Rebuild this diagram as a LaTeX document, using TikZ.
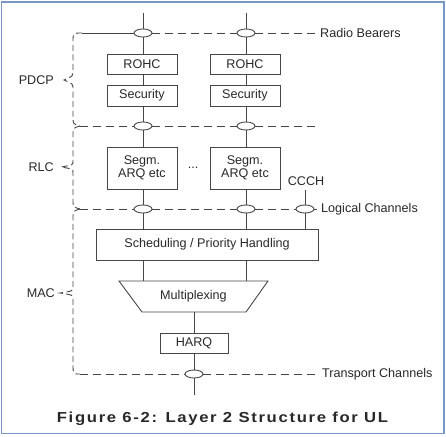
\documentclass[tikz,border=0pt]{standalone}
\usepackage{fontspec}
\usepackage{graphicx}
\setmainfont{Liberation Sans}
\newfontfamily\capfont[LetterSpace=10]{Liberation Sans}
\usetikzlibrary{shapes.geometric}
\definecolor{lnc}{RGB}{70,70,70}
\definecolor{txc}{RGB}{40,40,40}
\definecolor{frc}{RGB}{120,150,200}
\tikzset{
  box/.style={draw=lnc, line width=0.9pt, minimum width=70pt, inner sep=0pt, align=center, text=txc, font=\fontsize{12.6}{13.5}\selectfont},
  sap/.style={draw=lnc, line width=0.9pt, ellipse, minimum width=18pt, minimum height=8pt, inner sep=0pt, fill=white},
  dline/.style={draw=lnc, line width=0.9pt, dash pattern=on 8pt off 5pt},
  brc/.style={draw=lnc, line width=0.9pt, dash pattern=on 6pt off 3.5pt},
  sline/.style={draw=lnc, line width=0.9pt},
  lbl/.style={text=txc, font=\fontsize{12.6}{13.5}\selectfont, inner sep=0pt},
}
\begin{document}
\begin{tikzpicture}[x=1pt,y=-1pt]
\useasboundingbox (0,0) rectangle (446,436);
\draw[frc, line width=1.5pt] (1.5,2) rectangle (444,433.5);
% column coordinates
\coordinate (t1) at (143,13);
\coordinate (t2) at (246,13);
% SAP ellipses
\node[sap] (rb1) at (143,33) {};
\node[sap] (rb2) at (246,33) {};
\node[sap] (pr1) at (143,126) {};
\node[sap] (pr2) at (246,126) {};
\node[sap] (lc1) at (143,209) {};
\node[sap] (lc2) at (246,209) {};
\node[sap] (lc3) at (305,209) {};
\node[sap] (tc) at (194,374) {};
% boxes
\node[box, minimum height=20pt] (rohc1) at (142,64) {ROHC};
\node[box, minimum height=20pt] (rohc2) at (245,64) {ROHC};
\node[box, minimum height=21pt] (sec1) at (142,95.5) {Security};
\node[box, minimum height=21pt] (sec2) at (245,95.5) {Security};
\node[box, minimum height=42pt] (seg1) at (142,168) {Segm.\\ARQ etc};
\node[box, minimum height=42pt] (seg2) at (245,168) {Segm.\\ARQ etc};
\node[lbl] (dots) at (193,168) {...};
\node[box, minimum width=222pt, minimum height=31pt] (sch) at (207,244.5) {Scheduling / Priority Handling};
% multiplexing trapezoid
\coordinate (m1) at (119,281);
\coordinate (m2) at (268,281);
\coordinate (m3) at (246,312);
\coordinate (m4) at (142,312);
\coordinate (mb) at (194,312);
\draw[sline, line join=miter] (m1) -- (m2) -- (m3) -- (m4) -- cycle;
\node[lbl] (muxt) at (193.5,296) {Multiplexing};
\node[box, minimum width=68pt, minimum height=20pt] (harq) at (194,343) {HARQ};
\node[lbl] (ccch) at (306,181) {CCCH};
\coordinate (cc0) at (305,190);
\coordinate (bot) at (194,395);
% vertical connectors
\draw[sline] (t1) -- (rb1) -- (rohc1.north -| t1);
\draw[sline] (t2) -- (rb2) -- (rohc2.north -| t2);
\draw[sline] (rohc1.south -| t1) -- (sec1.north -| t1);
\draw[sline] (rohc2.south -| t2) -- (sec2.north -| t2);
\draw[sline] (sec1.south -| t1) -- (pr1) -- (seg1.north -| t1);
\draw[sline] (sec2.south -| t2) -- (pr2) -- (seg2.north -| t2);
\draw[sline] (seg1.south -| t1) -- (lc1) -- (sch.north -| t1);
\draw[sline] (seg2.south -| t2) -- (lc2) -- (sch.north -| t2);
\draw[sline] (cc0) -- (lc3) -- (sch.north -| cc0);
\draw[sline] (sch.south -| t1) -- (m1 -| t1);
\draw[sline] (sch.south -| t2) -- (m1 -| t2);
\draw[sline] (mb) -- (harq.north);
\draw[sline] (harq.south) -- (tc) -- (bot);
% horizontal SAP lines
\coordinate (j0) at (82,33);
\coordinate (j1) at (80,126);
\coordinate (j2) at (80,209);
\coordinate (j3) at (80,374);
\draw[sline] (j0) -- (rb1.west);
\draw[dline] (rb1.east) -- (rb2.west);
\draw[dline] (rb2.east) -- (317,33);
\draw[dline] (j1) -- (pr1.west);
\draw[dline] (pr1.east) -- (pr2.west);
\draw[dline] (pr2.east) -- (315,126);
\draw[dline] (j2) -- (lc1.west);
\draw[dline] (lc1.east) -- (lc2.west);
\draw[dline] (lc2.east) -- (lc3.west);
\draw[sline] (lc3.east) -- (317,209);
\draw[dline] (j3) -- (tc.west);
\draw[dline] (tc.east) -- (315,374);
% labels on the right
\node[lbl, anchor=west] (rbl) at (320,33) {Radio Bearers};
\node[lbl, anchor=west] (lcl) at (321,209) {Logical Channels};
\node[lbl, anchor=west] (tcl) at (322,374) {Transport Channels};
% braces
\draw[brc] (j0) .. controls (73,33) .. (73,42) -- (73,73) .. controls (73,76) .. (64,80) .. controls (73,84) .. (73,87) -- (73,117) .. controls (73,124) .. (j1);
\draw[brc] (j1) .. controls (73,128) .. (73,135) -- (73,161) .. controls (73,165) .. (61,167) .. controls (73,169) .. (73,173) -- (73,200) .. controls (73,207) .. (j2);
\draw[brc] (j2) .. controls (73,211) .. (73,218) -- (73,287) .. controls (73,291) .. (60,293) .. controls (73,295) .. (73,299) -- (73,364) .. controls (73,374) .. (j3);
\node[lbl, anchor=east] (pdcp) at (54,80) {PDCP};
\node[lbl, anchor=east] (rlc) at (54,167) {RLC};
\node[lbl, anchor=east] (mac) at (55,293) {MAC};
% caption
\node[text=txc, inner sep=0pt, font=\capfont\bfseries\fontsize{14.5}{16}\selectfont] (cap) at (222.5,419) {\scalebox{1.15}[1]{Figure 6-2: Layer 2 Structure for UL}};
\end{tikzpicture}
\end{document}
